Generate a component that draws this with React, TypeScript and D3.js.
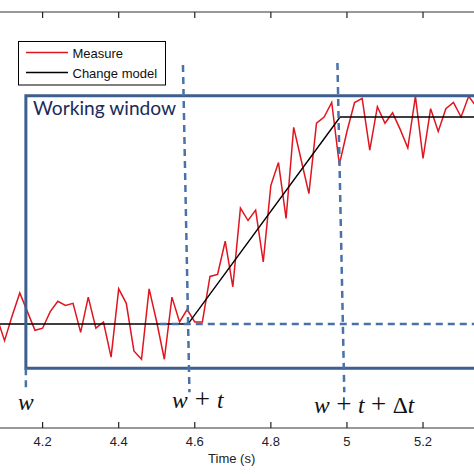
import * as d3 from 'd3';

// sampled measurement (normalised level) every 20 ms
const times = [
  4.08, 4.1, 4.12, 4.14, 4.16, 4.18, 4.2, 4.22, 4.24, 4.26, 4.28, 4.3, 4.32, 4.34, 4.36, 4.38,
  4.4, 4.42, 4.44, 4.46, 4.48, 4.5, 4.52, 4.54, 4.56, 4.58, 4.6, 4.62, 4.64, 4.66, 4.68, 4.7,
  4.72, 4.74, 4.76, 4.78, 4.8, 4.82, 4.84, 4.86, 4.88, 4.9, 4.92, 4.94, 4.96, 4.98, 5.0, 5.02,
  5.04, 5.06, 5.08, 5.1, 5.12, 5.14, 5.16, 5.18, 5.2, 5.22, 5.24, 5.26, 5.28, 5.3, 5.32, 5.34,
];
const measure = [
  0.03, -0.08, 0.04, 0.15, 0.06, -0.03, -0.02, 0.06, 0.11, 0.09, 0.1, -0.04, 0.13, -0.02, 0.01, -0.16,
  0.17, 0.1, -0.13, -0.17, 0.17, 0.01, -0.17, 0.13, 0.01, 0.07, 0.01, 0.01, 0.23, 0.24, 0.4, 0.18,
  0.56, 0.5, 0.55, 0.3, 0.67, 0.78, 0.51, 0.95, 0.79, 0.63, 0.97, 1.0, 1.07, 0.77, 0.93, 1.07,
  1.09, 0.84, 1.05, 0.97, 1.02, 0.94, 0.85, 1.1, 0.8, 1.04, 0.93, 1.04, 1.07, 1.0, 1.1, 1.05,
];

// piecewise-linear change model
const modelTimes = [4.08, 4.582, 4.982, 5.34];
const modelValues = [0, 0, 1, 1];

const tickValues = [4.2, 4.4, 4.6, 4.8, 5.0, 5.2];
const tickLabels = ['4.2', '4.4', '4.6', '4.8', '5', '5.2'];

// working window and event markers
const windowStart = 4.156;
const windowTop = 1.103;
const windowBottom = -0.214;
const markerBottom = -0.329;
const changeStart = [4.569, 4.586];
const changeEnd = [4.975, 4.993];
const markerTop = [1.251, 1.261];
const baselineFrom = 4.508;

const W = 474;
const H = 474;
const axisTop = 12;
const axisBottom = 428;

const x = d3.scaleLinear().domain([4.088, 5.334]).range([0, W]);
const y = d3.scaleLinear().domain([-0.502, 1.507]).range([axisBottom, axisTop]);

type Pt = [number, number];

export default function App() {
  const line = d3
    .line<Pt>()
    .x((d) => x(d[0]))
    .y((d) => y(d[1]));

  const measurePts: Pt[] = times.map((t, i) => [t, measure[i]]);
  const modelPts: Pt[] = modelTimes.map((t, i) => [t, modelValues[i]]);

  const rectBlue = '#3d5f8e';
  const dashBlue = '#4a72a8';
  const dash = '7,5';
  const mathFont = "'Liberation Serif', 'Times New Roman', serif";
  const plus = { fontSize: 27 };

  return (
    <svg
      width={W}
      height={H}
      style={{ position: 'absolute', left: 0, top: 0, background: '#fff' }}
      fontFamily="'Liberation Sans', Arial, sans-serif"
    >
      <defs>
        <clipPath id="plot">
          <rect x={0} y={axisTop} width={W} height={axisBottom - axisTop} />
        </clipPath>
      </defs>

      {/* axes box: top and bottom edges with inward ticks */}
      <line x1={0} x2={W} y1={axisTop} y2={axisTop} stroke="#333" strokeWidth={1.2} />
      <line x1={0} x2={W} y1={axisBottom} y2={axisBottom} stroke="#333" strokeWidth={1.2} />
      {tickValues.map((t, i) => (
        <g key={t}>
          <line x1={x(t)} x2={x(t)} y1={axisTop} y2={axisTop + 6} stroke="#222" strokeWidth={1.2} />
          <line x1={x(t)} x2={x(t)} y1={axisBottom} y2={axisBottom - 6} stroke="#222" strokeWidth={1.2} />
          <text x={x(t)} y={446} textAnchor="middle" fontSize={13} fill="#222">
            {tickLabels[i]}
          </text>
        </g>
      ))}
      <text x={x(4.697)} y={463} textAnchor="middle" fontSize={13} fill="#222">
        Time (s)
      </text>

      <g clipPath="url(#plot)">
        <path d={line(measurePts) ?? ''} fill="none" stroke="#e0151f" strokeWidth={1.5} strokeLinejoin="miter" />
        <path d={line(modelPts) ?? ''} fill="none" stroke="#000" strokeWidth={1.4} />
      </g>

      {/* working window */}
      <path
        d={`M${x(5.4)},${y(windowTop)}H${x(windowStart)}V${y(windowBottom)}H${x(5.4)}`}
        fill="none"
        stroke={rectBlue}
        strokeWidth={3}
      />
      <text x={33} y={115} fontFamily="Lato, 'Open Sans', sans-serif" fontSize={19.2} fill="#1c2a5a">
        Working window
      </text>

      {/* event markers */}
      <line
        x1={x(windowStart)}
        x2={x(windowStart)}
        y1={y(windowBottom)}
        y2={y(markerBottom) - 2}
        stroke={dashBlue}
        strokeWidth={2.5}
        strokeDasharray={dash}
      />
      <line
        x1={x(changeStart[0])}
        x2={x(changeStart[1])}
        y1={y(markerTop[0])}
        y2={y(markerBottom)}
        stroke={dashBlue}
        strokeWidth={2.5}
        strokeDasharray={dash}
      />
      <line
        x1={x(changeEnd[0])}
        x2={x(changeEnd[1])}
        y1={y(markerTop[1])}
        y2={y(markerBottom)}
        stroke={dashBlue}
        strokeWidth={2.5}
        strokeDasharray={dash}
      />
      <line
        x1={x(baselineFrom)}
        x2={W}
        y1={y(0)}
        y2={y(0)}
        stroke={dashBlue}
        strokeWidth={2.5}
        strokeDasharray={dash}
      />

      <g fontFamily={mathFont} fontSize={23.5} fill="#111">
        <text x={x(windowStart)} y={410} textAnchor="middle" fontStyle="italic">
          w
        </text>
        <text x={172} y={408}>
          <tspan fontStyle="italic">w</tspan>
          <tspan dx={7} {...plus}>+</tspan>
          <tspan dx={7} fontStyle="italic">t</tspan>
        </text>
        <text x={314} y={412.7}>
          <tspan fontStyle="italic">w</tspan>
          <tspan dx={6.5} {...plus}>+</tspan>
          <tspan dx={6.5} fontStyle="italic">t</tspan>
          <tspan dx={6.5} {...plus}>+</tspan>
          <tspan dx={6.5}>Δ</tspan>
          <tspan fontStyle="italic">t</tspan>
        </text>
      </g>

      {/* legend */}
      <g>
        <rect x={18.5} y={41.5} width={147} height={43.5} fill="#fff" stroke="#000" strokeWidth={1} />
        <line x1={26} x2={68} y1={52.5} y2={52.5} stroke="#e0151f" strokeWidth={1.5} />
        <line x1={26} x2={68} y1={72.5} y2={72.5} stroke="#000" strokeWidth={1.4} />
        <text x={72.5} y={57.5} fontSize={13} fill="#111">
          Measure
        </text>
        <text x={72.5} y={77.5} fontSize={13} fill="#111">
          Change model
        </text>
      </g>
    </svg>
  );
}
